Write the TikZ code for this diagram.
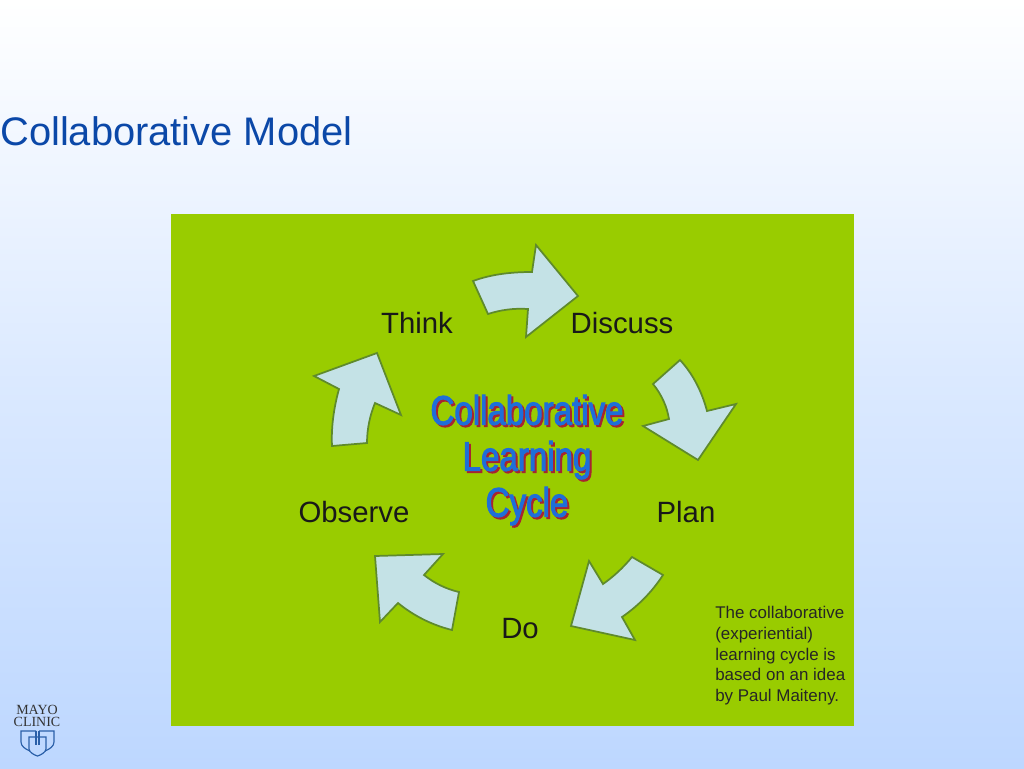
\documentclass[tikz,border=0pt]{standalone}
\usepackage{fontspec}
\setmainfont{Liberation Sans}
\newfontfamily\serifmark{Liberation Serif}
\newfontfamily\cycleface[FakeBold=2.4,FakeStretch=0.8]{Liberation Sans}
\usepackage[dvipsnames]{xcolor}
\definecolor{slidetop}{HTML}{FFFFFF}
\definecolor{slidebottom}{HTML}{BDD7FF}
\definecolor{titleblue}{HTML}{0B48A8}
\definecolor{panelgreen}{HTML}{99CC00}
\definecolor{arrowfill}{HTML}{C4E2E6}
\definecolor{arrowedge}{HTML}{5F8A2C}
\definecolor{cycleblue}{HTML}{1E6FD8}
\definecolor{cycleshadow}{HTML}{A82430}
\definecolor{markblue}{HTML}{2A5FA8}
\tikzset{
 cyclearrow/.style={fill=arrowfill,draw=arrowedge,line width=1.3pt,line join=miter},
 stagelabel/.style={inner sep=0pt,text=black!90,font=\fontsize{22}{22}\selectfont},
 cycletitle/.style={inner sep=0pt,align=center,font=\cycleface\fontsize{31}{34.5}\selectfont},
 shieldline/.style={draw=markblue,line width=0.9pt}
}
\begin{document}
\begin{tikzpicture}[x=0.75pt,y=-0.75pt]
\useasboundingbox (0,0) rectangle (1024,768);
\shade[top color=slidetop,bottom color=slidebottom,middle color=slidetop!45!slidebottom] (0,0) rectangle (1024,768);
\node[anchor=west,inner sep=0pt,text=titleblue,font=\fontsize{29.9}{30}\selectfont] (title) at (0,131) {Collaborative Model};
\fill[panelgreen] (171,214) rectangle (854,726);

% arrows, clockwise from the top
\draw[cyclearrow] (473,281) .. controls (492,274) and (512,272) .. (532,272) -- (536,245) -- (578,296) -- (526,337) -- (528,309) .. controls (514,308) and (500,310) .. (488,314) -- cycle;
\draw[cyclearrow] (680,360) -- (653,384) .. controls (662,395) and (667,407) .. (669,419) -- (643,426) -- (698,460) -- (736,404) -- (707,411) .. controls (702,392) and (693,374) .. (680,360) -- cycle;
\draw[cyclearrow] (632,557) -- (663,575) .. controls (652,592) and (638,606) .. (622,617) -- (635,640) -- (571,626) -- (589,561) -- (603,584) .. controls (613,577) and (623,568) .. (632,557) -- cycle;
\draw[cyclearrow] (459,592) -- (452,630) .. controls (432,625) and (414,616) .. (398,603) -- (380,622) -- (375,556) -- (443,554) -- (424,575) .. controls (434,583) and (446,589) .. (459,592) -- cycle;
\draw[cyclearrow] (332,446) -- (367,443) .. controls (367,429) and (370,415) .. (375,403) -- (401,415) -- (377,353) -- (314,376) -- (339,389) .. controls (334,407) and (331,427) .. (332,446) -- cycle;

\foreach \stage/\x/\y in {Think/417/323,Discuss/622/323,Plan/686/512,Do/520/629,Observe/354/512}
{
 \node[stagelabel] (\stage) at (\x,\y) {\stage};
}

\node[cycletitle,text=cycleshadow] (cycleback) at (529,462) {Collaborative\\Learning\\Cycle};
\node[cycletitle,text=cycleblue] (cycle) at (527,460) {Collaborative\\Learning\\Cycle};

\node[anchor=north west,inner sep=0pt,align=left,text=black!85,font=\fontsize{12.7}{15.6}\selectfont] (note) at (715,606) {The collaborative\\(experiential)\\learning cycle is\\based on an idea\\by Paul Maiteny.};

% logo
\node[inner sep=0pt,align=center,text=black!80,font=\serifmark\fontsize{10.5}{9}\selectfont] (mayo) at (37,716) {MAYO\\CLINIC};
\draw[shieldline] (36,731) -- (21,731) -- (21,742) .. controls (21,746) and (25,749) .. (30,751);
\draw[shieldline] (39,731) -- (54,731) -- (54,742) .. controls (54,746) and (50,749) .. (45,751);
\draw[shieldline] (36,731) -- (36,745);
\draw[shieldline] (39,731) -- (39,745);
\draw[shieldline] (29,737) -- (46,737) -- (46,749) .. controls (46,752) and (41,755) .. (37.5,756) .. controls (34,755) and (29,752) .. (29,749) -- cycle;
\end{tikzpicture}
\end{document}
